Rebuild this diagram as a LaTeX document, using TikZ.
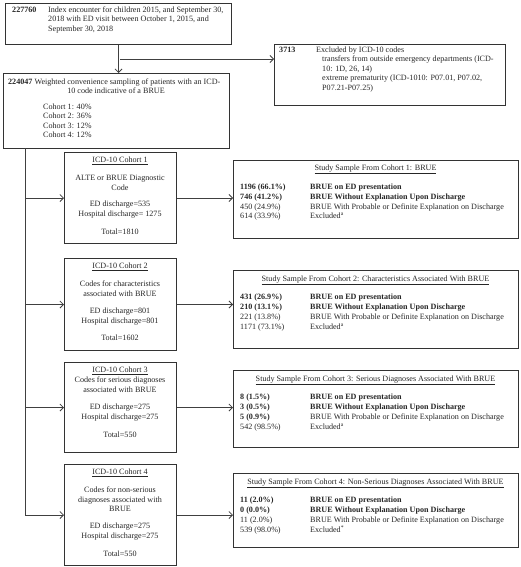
\documentclass[tikz,border=0pt]{standalone}
\usepackage{fontspec}
\setmainfont{Liberation Serif}
\usetikzlibrary{arrows.meta}
\begin{document}
\begin{tikzpicture}[x=1pt,y=-1pt,
  box/.style={draw=black!80,line width=1pt,rectangle,inner sep=0pt,anchor=north west},
  arr/.style={draw=black!75,line width=0.8pt,-{Straight Barb[length=3.5pt,width=7pt]}},
  ln/.style={draw=black!75,line width=0.8pt},
  tx/.style={inner sep=0pt,font=\fontsize{8.1}{9.5}\selectfont,text=black!85},
  tl/.style={tx,anchor=mid west},
  tc/.style={tx,anchor=mid}]
\useasboundingbox (0,0) rectangle (520,567);
% boxes
\node[box,minimum width=226pt,minimum height=41pt] (b1) at (5,3) {};
\node[box,minimum width=231pt,minimum height=61pt] (ex) at (274,44) {};
\node[box,minimum width=226pt,minimum height=75pt] (b2) at (3,73) {};
\node[box,minimum width=112pt,minimum height=91pt] (c1) at (64,152) {};
\node[box,minimum width=112pt,minimum height=92pt] (c2) at (64,258) {};
\node[box,minimum width=112pt,minimum height=90pt] (c3) at (64,362) {};
\node[box,minimum width=112pt,minimum height=101pt] (c4) at (64,464) {};
\node[box,minimum width=285pt,minimum height=78pt] (s1) at (233,160) {};
\node[box,minimum width=285pt,minimum height=78pt] (s2) at (233,270) {};
\node[box,minimum width=285pt,minimum height=77pt] (s3) at (233,370) {};
\node[box,minimum width=285pt,minimum height=74pt] (s4) at (233,473) {};
% box 1 text
\node[tl] (b1n) at (12,10) {\textbf{227760}};
\node[tl] (b1a) at (48,10) {Index encounter for children 2015, and September 30,};
\node[tl] (b1b) at (48,19.5) {2018 with ED visit between October 1, 2015, and};
\node[tl] (b1c) at (48,29) {September 30, 2018};
% exclusion text
\node[tl] (exn) at (279,50) {\textbf{3713}};
\node[tl] (exa) at (316,50) {Excluded by ICD-10 codes};
\node[tl] (exb) at (322,59.5) {transfers from outside emergency departments (ICD-};
\node[tl] (exc) at (322,69) {10: 1D, 26, 14)};
\node[tl] (exd) at (322,78.5) {extreme prematurity (ICD-1010: P07.01, P07.02,};
\node[tl] (exe) at (322,88) {P07.21-P07.25)};
% box 2 text
\node[tl] (b2a) at (8,82) {\textbf{224047} Weighted convenience sampling of patients with an ICD-};
\node[tc] (b2b) at (116,91.5) {10 code indicative of a BRUE};
\node[tl] (b2c) at (43,107) {Cohort 1: 40\%};
\node[tl] (b2d) at (43,116.5) {Cohort 2: 36\%};
\node[tl] (b2e) at (43,126) {Cohort 3: 12\%};
\node[tl] (b2f) at (43,135.5) {Cohort 4: 12\%};
% cohort 1
\node[tc] (c1a) at (120,160) {\underline{ICD-10 Cohort 1}};
\node[tc] (c1b) at (120,178) {ALTE or BRUE Diagnostic};
\node[tc] (c1c) at (120,188) {Code};
\node[tc] (c1d) at (120,204) {ED discharge=535};
\node[tc] (c1e) at (120,214) {Hospital discharge= 1275};
\node[tc] (c1f) at (120,232) {Total=1810};
% cohort 2
\node[tc] (c2a) at (120,266) {\underline{ICD-10 Cohort 2}};
\node[tc] (c2b) at (120,284) {Codes for characteristics};
\node[tc] (c2c) at (120,294) {associated with BRUE};
\node[tc] (c2d) at (120,311) {ED discharge=801};
\node[tc] (c2e) at (120,321) {Hospital discharge=801};
\node[tc] (c2f) at (120,338) {Total=1602};
% cohort 3
\node[tc] (c3a) at (120,370) {\underline{ICD-10 Cohort 3}};
\node[tc] (c3b) at (120,380) {Codes for serious diagnoses};
\node[tc] (c3c) at (120,390) {associated with BRUE};
\node[tc] (c3d) at (120,407) {ED discharge=275};
\node[tc] (c3e) at (120,417) {Hospital discharge=275};
\node[tc] (c3f) at (120,435) {Total=550};
% cohort 4
\node[tc] (c4a) at (120,472) {\underline{ICD-10 Cohort 4}};
\node[tc] (c4b) at (120,490) {Codes for non-serious};
\node[tc] (c4c) at (120,500) {diagnoses associated with};
\node[tc] (c4d) at (120,509) {BRUE};
\node[tc] (c4e) at (120,526) {ED discharge=275};
\node[tc] (c4f) at (120,536) {Hospital discharge=275};
\node[tc] (c4g) at (120,554) {Total=550};
% study 1
\node[tc] (s1t) at (375.5,168) {\underline{Study Sample From Cohort 1: BRUE}};
\node[tl] (s1a) at (240,187) {\textbf{1196 (66.1\%)}};
\node[tl] (s1b) at (240,197) {\textbf{746 (41.2\%)}};
\node[tl] (s1c) at (240,207) {450 (24.9\%)};
\node[tl] (s1d) at (240,216) {614 (33.9\%)};
\node[tl] (s1e) at (310,187) {\textbf{BRUE on ED presentation}};
\node[tl] (s1f) at (310,197) {\textbf{BRUE Without Explanation Upon Discharge}};
\node[tl] (s1g) at (310,207) {BRUE With Probable or Definite Explanation on Discharge};
\node[tl] (s1h) at (310,216) {Excluded\textsuperscript{a}};
% study 2
\node[tc] (s2t) at (375.5,279) {\underline{Study Sample From Cohort 2: Characteristics Associated With BRUE}};
\node[tl] (s2a) at (240,297) {\textbf{431 (26.9\%)}};
\node[tl] (s2b) at (240,307) {\textbf{210 (13.1\%)}};
\node[tl] (s2c) at (240,317) {221 (13.8\%)};
\node[tl] (s2d) at (240,327) {1171 (73.1\%)};
\node[tl] (s2e) at (310,297) {\textbf{BRUE on ED presentation}};
\node[tl] (s2f) at (310,307) {\textbf{BRUE Without Explanation Upon Discharge}};
\node[tl] (s2g) at (310,317) {BRUE With Probable or Definite Explanation on Discharge};
\node[tl] (s2h) at (310,327) {Excluded\textsuperscript{a}};
% study 3
\node[tc] (s3t) at (375.5,379) {\underline{Study Sample From Cohort 3: Serious Diagnoses Associated With BRUE}};
\node[tl] (s3a) at (240,397) {\textbf{8 (1.5\%)}};
\node[tl] (s3b) at (240,407) {\textbf{3 (0.5\%)}};
\node[tl] (s3c) at (240,417) {\textbf{5 (0.9\%)}};
\node[tl] (s3d) at (240,427) {542 (98.5\%)};
\node[tl] (s3e) at (310,397) {\textbf{BRUE on ED presentation}};
\node[tl] (s3f) at (310,407) {\textbf{BRUE Without Explanation Upon Discharge}};
\node[tl] (s3g) at (310,417) {BRUE With Probable or Definite Explanation on Discharge};
\node[tl] (s3h) at (310,427) {Excluded\textsuperscript{a}};
% study 4
\node[tc] (s4t) at (375.5,482) {\underline{Study Sample From Cohort 4: Non-Serious Diagnoses Associated With BRUE}};
\node[tl] (s4a) at (240,500) {\textbf{11 (2.0\%)}};
\node[tl] (s4b) at (240,510) {\textbf{0 (0.0\%)}};
\node[tl] (s4c) at (240,520) {11 (2.0\%)};
\node[tl] (s4d) at (240,530) {539 (98.0\%)};
\node[tl] (s4e) at (310,500) {\textbf{BRUE on ED presentation}};
\node[tl] (s4f) at (310,510) {\textbf{BRUE Without Explanation Upon Discharge}};
\node[tl] (s4g) at (310,520) {BRUE With Probable or Definite Explanation on Discharge};
\node[tl] (s4h) at (310,530) {Excluded\textsuperscript{*}};
% connectors
\draw[arr] (b1.south) -- (b1.south |- b2.north);
\coordinate (ex0) at (120,59);
\draw[arr] (ex0) -- (ex0 -| ex.west);
\coordinate (tk0) at (25,148);
\draw[ln] (tk0) -- (tk0 |- c4.west);
\draw[arr] (tk0 |- c1.west) -- (c1.west);
\draw[arr] (tk0 |- c2.west) -- (c2.west);
\draw[arr] (tk0 |- c3.west) -- (c3.west);
\draw[arr] (tk0 |- c4.west) -- (c4.west);
\draw[arr] (c1.east) -- (c1.east -| s1.west);
\draw[arr] (c2.east) -- (c2.east -| s2.west);
\draw[arr] (c3.east) -- (c3.east -| s3.west);
\draw[arr] (c4.east) -- (c4.east -| s4.west);
\end{tikzpicture}
\end{document}
